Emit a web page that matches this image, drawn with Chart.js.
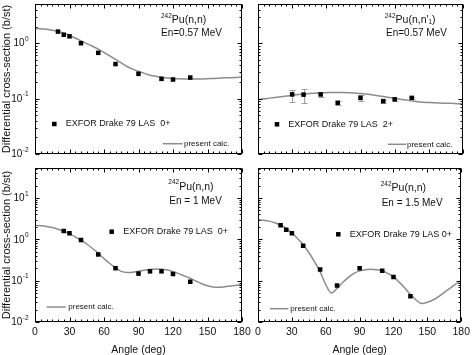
<!DOCTYPE html>
<html><head><meta charset="utf-8">
<script src="https://cdn.jsdelivr.net/npm/chart.js@4/dist/chart.umd.min.js"></script>
<style>
html,body{margin:0;padding:0;background:#fff;width:474px;height:355px;overflow:hidden;position:relative}
canvas{position:absolute}
</style></head><body>
<canvas id="c1" width="250" height="160" style="left:0;top:0"></canvas>
<canvas id="c2" width="224" height="160" style="left:250px;top:0"></canvas>
<canvas id="c3" width="256" height="195" style="left:0;top:160px"></canvas>
<canvas id="c4" width="224" height="195" style="left:250px;top:160px"></canvas>
<script>
// ---------- data ----------
const angleGrid = [0,5,10,15,20,25,30,35,40,45,50,55,60,65,70,75,80,85,90,95,100,105,110,115,120,125,130,135,140,145,150,155,160,165,170,175,180];

const calcTL = [1.85,1.83,1.78,1.71,1.62,1.51,1.38,1.24,1.1,0.98,0.88,0.78,0.68,0.59,0.51,0.44,0.38,0.34,0.31,0.285,0.265,0.252,0.243,0.236,0.231,0.228,0.226,0.225,0.225,0.226,0.228,0.231,0.234,0.237,0.239,0.241,0.243];
const calcTR = [0.097,0.099,0.102,0.105,0.108,0.111,0.115,0.118,0.121,0.123,0.125,0.127,0.128,0.129,0.129,0.129,0.128,0.126,0.124,0.121,0.117,0.113,0.109,0.105,0.101,0.097,0.094,0.091,0.088,0.086,0.085,0.084,0.083,0.082,0.082,0.081,0.081];
const calcBL = [2.15,2.12,2.05,1.92,1.75,1.56,1.35,1.15,0.95,0.77,0.6,0.46,0.34,0.26,0.205,0.168,0.158,0.16,0.168,0.178,0.186,0.19,0.188,0.18,0.165,0.148,0.13,0.114,0.097,0.084,0.075,0.07,0.069,0.071,0.074,0.077,0.079];
const calcBR = [2.93,2.88,2.75,2.5,2.22,1.82,1.42,1.05,0.74,0.48,0.29,0.165,0.08,0.05,0.065,0.09,0.12,0.15,0.172,0.184,0.188,0.184,0.172,0.15,0.123,0.092,0.066,0.046,0.034,0.028,0.03,0.034,0.041,0.052,0.065,0.082,0.1];

const expAnglesTL = [20,25,30,40,55,70,90,110,120,135];
const expTL = [1.62,1.42,1.33,1.0,0.67,0.42,0.28,0.227,0.221,0.24];

const expAnglesTR = [30,40,55,70,90,110,120,135];
const expTR = [0.119,0.118,0.119,0.084,0.103,0.090,0.097,0.103];
const expTRlow = [0.088,0.082,0.106,0.076,0.092,0.084,0.091,0.097];
const expTRhigh = [0.145,0.148,0.132,0.092,0.114,0.096,0.103,0.109];

const expAnglesBL = [25,30,40,55,70,90,100,110,120,135];
const expBL = [1.59,1.4,0.96,0.43,0.2,0.148,0.168,0.168,0.145,0.094];

const expAnglesBR = [20,25,30,40,55,70,90,110,120,135];
const expBR = [2.18,1.71,1.40,0.70,0.187,0.076,0.2,0.174,0.122,0.042];

const xTickLabels = [0,30,60,90,120,150,180];
const yPowersTop = [-2,-1,0];
const yPowersBottom = [-2,-1,0,1];

const Y_TITLE = 'Differential cross-section (b/st)';
const X_TITLE = 'Angle (deg)';
const CALC_LABEL = 'present calc.';

// ---------- style ----------
const FONT = "'Liberation Sans', Arial, sans-serif";
const CURVE = '#8c8c8c';
const INK = '#111';

function drawRich(ctx, x, y, parts, size) {
  let cx = x;
  parts.forEach(p => {
    const s = p.sup || p.sub ? size * 0.62 : size;
    ctx.font = s + 'px ' + FONT;
    const dy = p.sup ? -4.2 : (p.sub ? 2.5 : 0);
    ctx.fillText(p.t, cx, y + dy);
    cx += ctx.measureText(p.t).width;
  });
}

function makeDeco(cfg) {
  return {
    id: 'deco',
    beforeDatasetsDraw(chart) {
      if (!cfg.err) return;
      const {ctx, scales: {x, y}} = chart;
      ctx.save();
      ctx.strokeStyle = '#a0a0a0'; ctx.lineWidth = 1;
      cfg.err.angles.forEach((a, i) => {
        const px = Math.round(x.getPixelForValue(a)) + 0.5;
        const y1 = Math.round(y.getPixelForValue(cfg.err.low[i])) + 0.5;
        const y2 = Math.round(y.getPixelForValue(cfg.err.high[i])) + 0.5;
        ctx.beginPath();
        ctx.moveTo(px, y1); ctx.lineTo(px, y2);
        ctx.moveTo(px - 3, y1); ctx.lineTo(px + 3, y1);
        ctx.moveTo(px - 3, y2); ctx.lineTo(px + 3, y2);
        ctx.stroke();
      });
      ctx.restore();
    },
    afterDraw(chart) {
      const {ctx, chartArea: ca, scales: {x, y}} = chart;
      ctx.save();
      const L = Math.round(ca.left) + 0.5, R = Math.round(ca.right) - 0.5;
      const T = Math.round(ca.top) + 0.5, B = Math.round(ca.bottom) - 0.5;
      ctx.strokeStyle = '#000'; ctx.lineWidth = 1;
      ctx.strokeRect(L, T, R - L, B - T);
      ctx.beginPath();
      // x tick marks (inward, bottom and top)
      for (let a = 0; a <= 180; a += 5) {
        const px = Math.round(x.getPixelForValue(a)) + 0.5;
        const len = a % 30 === 0 ? 4 : 2;
        ctx.moveTo(px, B); ctx.lineTo(px, B - len);
        ctx.moveTo(px, T); ctx.lineTo(px, T + len);
      }
      // y tick marks (log, inward, left and right)
      const p0 = Math.floor(Math.log10(y.min)), p1 = Math.ceil(Math.log10(y.max));
      for (let p = p0; p <= p1; p++) {
        for (let m = 1; m <= 9; m++) {
          const v = m * Math.pow(10, p);
          if (v < y.min * 0.999 || v > y.max) continue;
          const py = Math.round(y.getPixelForValue(v)) + 0.5;
          const len = m === 1 ? 4 : 2;
          ctx.moveTo(L, py); ctx.lineTo(L + len, py);
          ctx.moveTo(R, py); ctx.lineTo(R - len, py);
        }
      }
      ctx.stroke();

      ctx.fillStyle = INK;
      ctx.textBaseline = 'middle';
      // y tick labels 10^n
      if (cfg.yPowers) {
        cfg.yPowers.forEach(p => {
          const py = y.getPixelForValue(Math.pow(10, p));
          const xe = ca.left - 6.5;
          ctx.font = '6.5px ' + FONT;
          ctx.textAlign = 'left';
          const e = String(p);
          const ew = ctx.measureText(e).width;
          ctx.fillText(e, xe - ew, py - 4);
          ctx.font = '10px ' + FONT;
          ctx.textAlign = 'right';
          ctx.fillText('10', xe - ew - 0.3, py + 0.5);
        });
      }
      ctx.textAlign = 'left';
      // reaction label
      drawRich(ctx, cfg.title.x, cfg.title.y, cfg.title.parts, 10.5);
      ctx.font = '10px ' + FONT;
      ctx.fillText(cfg.en.text, cfg.en.x, cfg.en.y);
      // legend: experiment
      const ms = 4.5;
      ctx.fillStyle = '#000';
      ctx.fillRect(cfg.leg.mx - ms / 2, cfg.leg.my - ms / 2, ms, ms);
      ctx.fillStyle = INK;
      ctx.font = '9px ' + FONT;
      ctx.fillText(cfg.leg.text, cfg.leg.tx, cfg.leg.my);
      // legend: calc
      ctx.strokeStyle = CURVE; ctx.lineWidth = 1.5;
      ctx.beginPath();
      ctx.moveTo(cfg.calcLeg.x1, cfg.calcLeg.y); ctx.lineTo(cfg.calcLeg.x2, cfg.calcLeg.y);
      ctx.stroke();
      ctx.font = '8px ' + FONT;
      ctx.fillText(CALC_LABEL, cfg.calcLeg.tx, cfg.calcLeg.y);
      ctx.restore();
    }
  };
}

function makeChart(id, cfg) {
  return new Chart(document.getElementById(id), {
    type: 'line',
    data: {
      datasets: [
        {
          type: 'line',
          data: angleGrid.map((a, i) => ({x: a, y: cfg.calc[i]})),
          borderColor: CURVE, borderWidth: 1.5, pointRadius: 0,
          cubicInterpolationMode: 'monotone', fill: false, order: 2
        },
        {
          type: 'scatter',
          data: cfg.expA.map((a, i) => ({x: a, y: cfg.expV[i]})),
          pointStyle: 'rect', pointRadius: 3.2, backgroundColor: '#000',
          borderColor: '#000', borderWidth: 0, showLine: false, order: 1
        }
      ]
    },
    options: {
      responsive: false, animation: false, devicePixelRatio: 1,
      layout: {padding: cfg.pad},
      plugins: {legend: {display: false}, tooltip: {enabled: false}},
      scales: {
        x: {
          type: 'linear', min: 0, max: 180, display: cfg.bottom,
          grid: {display: false, drawTicks: false}, border: {display: false},
          afterBuildTicks: s => { s.ticks = xTickLabels.map(v => ({value: v})); },
          ticks: {autoSkip: false, maxRotation: 0, minRotation: 0, padding: 4,
                  font: {family: FONT, size: 10.5}, color: INK},
          title: {display: cfg.bottom, text: X_TITLE, font: {family: FONT, size: 10.5},
                  padding: {top: 0, bottom: -1}, color: INK},
          afterFit: s => { if (cfg.bottom) s.height = 33; }
        },
        y: {
          type: 'logarithmic', min: 0.01, max: cfg.ymax, display: cfg.left,
          grid: {display: false, drawTicks: false}, border: {display: false},
          ticks: {display: false},
          title: {display: cfg.left, text: Y_TITLE, font: {family: FONT, size: 11},
                  padding: 0, color: INK},
          afterFit: s => { if (cfg.left) s.width = 35; }
        }
      }
    },
    plugins: [makeDeco(cfg)]
  });
}

const sup = t => ({t, sup: true});
const sub = t => ({t, sub: true});
const txt = t => ({t});

makeChart('c1', {
  left: true, bottom: false, ymax: 5.1, pad: {top: 1, right: 8, bottom: 6, left: 0},
  calc: calcTL, expA: expAnglesTL, expV: expTL, yPowers: yPowersTop,
  title: {x: 161, y: 20, parts: [sup('242'), txt('Pu(n,n)')]},
  en: {x: 161, y: 33, text: 'En=0.57 MeV'},
  leg: {mx: 54.3, my: 124, tx: 65.7, text: 'EXFOR Drake 79 LAS  0+'},
  calcLeg: {x1: 162.7, x2: 182.7, y: 143.7, tx: 184}
});
makeChart('c2', {
  left: false, bottom: false, ymax: 5.1, pad: {top: 1, right: 11, bottom: 6, left: 8},
  calc: calcTR, expA: expAnglesTR, expV: expTR,
  err: {angles: expAnglesTR, low: expTRlow, high: expTRhigh},
  title: {x: 134.7, y: 20, parts: [sup('242'), txt("Pu(n,n'"), sub('1'), txt(')')]},
  en: {x: 136, y: 33, text: 'En=0.57 MeV'},
  leg: {mx: 27, my: 124.3, tx: 38.3, text: 'EXFOR Drake 79 LAS  2+'},
  calcLeg: {x1: 138, x2: 156.3, y: 144.3, tx: 157}
});
makeChart('c3', {
  left: true, bottom: true, ymax: 53, pad: {top: 8, right: 14, bottom: 0, left: 0},
  calc: calcBL, expA: expAnglesBL, expV: expBL, yPowers: yPowersBottom,
  title: {x: 168.3, y: 26.7, parts: [sup('242'), txt('Pu(n,n)')]},
  en: {x: 169.3, y: 41.7, text: 'En = 1 MeV'},
  leg: {mx: 111.7, my: 71.7, tx: 123.3, text: 'EXFOR Drake 79 LAS  0+'},
  calcLeg: {x1: 46.7, x2: 65.7, y: 147, tx: 68.3}
});
makeChart('c4', {
  left: false, bottom: true, ymax: 53, pad: {top: 8, right: 11, bottom: 0, left: 8},
  calc: calcBR, expA: expAnglesBR, expV: expBR,
  title: {x: 130.7, y: 28.3, parts: [sup('242'), txt('Pu(n,n)')]},
  en: {x: 131.7, y: 43.3, text: 'En = 1.5 MeV'},
  leg: {mx: 88.3, my: 74.3, tx: 99.7, text: 'EXFOR Drake 79 LAS 0+'},
  calcLeg: {x1: 20, x2: 38.3, y: 148.7, tx: 40.3}
});
</script>
</body></html>
